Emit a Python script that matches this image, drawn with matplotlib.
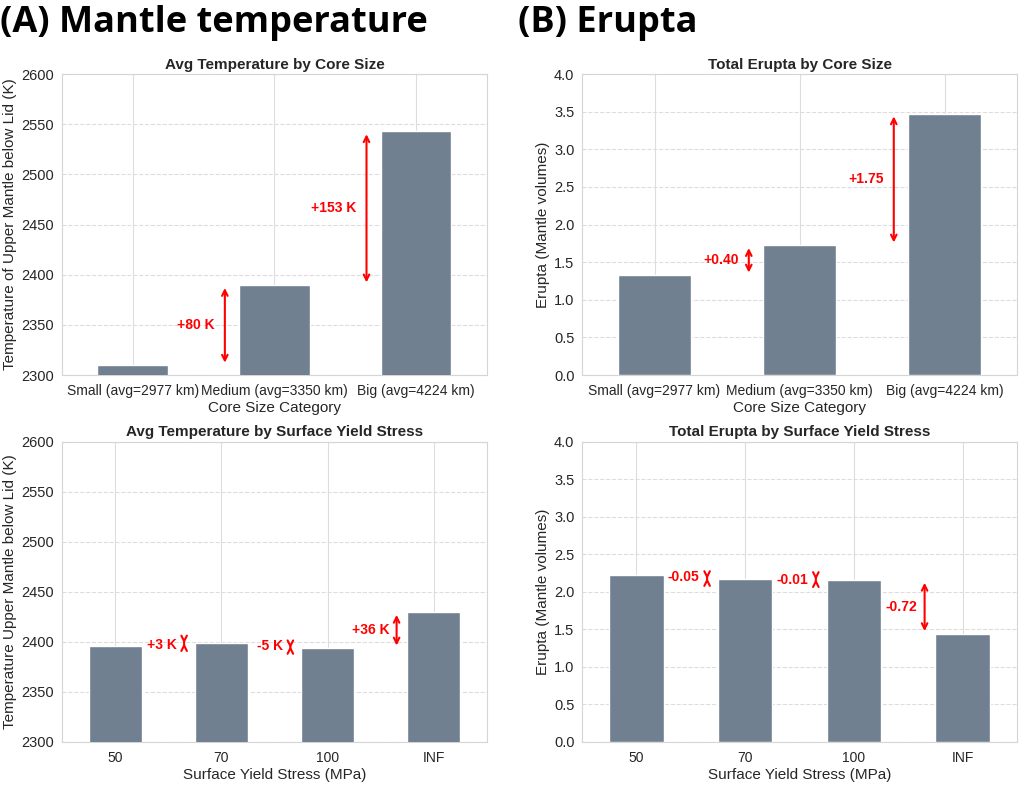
import numpy as np
import matplotlib.pyplot as plt
import seaborn as sns

sns.set_style("whitegrid")
plt.rcParams['font.family'] = ['Liberation Sans', 'DejaVu Sans']

core_labels = ['Small (avg=2977 km)', 'Medium (avg=3350 km)', 'Big (avg=4224 km)']
core_temp = [2309.6, 2389.6, 2542.8]
core_erupta = [1.325, 1.725, 3.475]

stress_labels = ['50', '70', '100', 'INF']
stress_temp = [2395.6, 2398.8, 2393.6, 2429.8]
stress_erupta = [2.222, 2.170, 2.158, 1.440]

BAR = '#708090'


def draw_panel(ax, labels, values, title, xlabel, ylabel, ylim, yticks, fmt):
    x = np.arange(len(labels))
    ax.bar(x, values, width=0.5, color=BAR, edgecolor='white', linewidth=1, zorder=3)
    ax.set_xlim(-0.5, len(labels) - 0.5)
    ax.set_ylim(*ylim)
    ax.set_yticks(yticks)
    ax.set_xticks(x)
    ax.set_xticklabels(labels, fontsize=10)
    ax.tick_params(axis='y', labelsize=10.5, pad=2)
    ax.tick_params(axis='x', pad=3)
    ax.set_title(title, fontsize=11, fontweight='bold', pad=4)
    ax.set_xlabel(xlabel, fontsize=11, labelpad=2)
    ax.set_ylabel(ylabel, fontsize=11, labelpad=3)
    ax.grid(axis='y', linestyle='--', color='#dddddd', linewidth=0.8)
    ax.grid(axis='x', linestyle='-', color='#dddddd', linewidth=0.8)
    for s in ax.spines.values():
        s.set_color('#d5d5d5')
    for i in range(len(values) - 1):
        d = values[i + 1] - values[i]
        xa = i + 0.65
        ax.annotate('', xy=(xa, values[i + 1]), xytext=(xa, values[i]),
                    arrowprops=dict(arrowstyle='<->', color='red', lw=1.5), zorder=4)
        ax.text(xa - 0.07, (values[i] + values[i + 1]) / 2, fmt(d),
                ha='right', va='center', color='red', fontsize=10, fontweight='bold', zorder=5)


fig = plt.figure(figsize=(10.24, 7.88), dpi=100)
ax1 = fig.add_axes([0.0605, 0.524, 0.415, 0.382])
ax2 = fig.add_axes([0.5684, 0.524, 0.4248, 0.382])
ax3 = fig.add_axes([0.0605, 0.0584, 0.415, 0.381])
ax4 = fig.add_axes([0.5684, 0.0584, 0.4248, 0.381])

tfmt = lambda d: f'{d:+.0f} K'
efmt = lambda d: f'{d:+.2f}'

draw_panel(ax1, core_labels, core_temp, 'Avg Temperature by Core Size', 'Core Size Category',
           'Temperature of Upper Mantle below Lid (K)', (2300, 2600), np.arange(2300, 2601, 50), tfmt)
draw_panel(ax2, core_labels, core_erupta, 'Total Erupta by Core Size', 'Core Size Category',
           'Erupta (Mantle volumes)', (0, 4.0), np.arange(0, 4.01, 0.5), efmt)
draw_panel(ax3, stress_labels, stress_temp, 'Avg Temperature by Surface Yield Stress', 'Surface Yield Stress (MPa)',
           'Temperature Upper Mantle below Lid (K)', (2300, 2600), np.arange(2300, 2601, 50), tfmt)
draw_panel(ax4, stress_labels, stress_erupta, 'Total Erupta by Surface Yield Stress', 'Surface Yield Stress (MPa)',
           'Erupta (Mantle volumes)', (0, 4.0), np.arange(0, 4.01, 0.5), efmt)

for ax in (ax2, ax4):
    ax.yaxis.set_major_formatter(plt.FormatStrFormatter('%.1f'))

fig.text(0.0, 0.971, '(A) Mantle temperature', fontsize=26, fontweight='bold', color='black',
         family=['Open Sans', 'DejaVu Sans'], ha='left', va='center')
fig.text(0.506, 0.971, '(B) Erupta', fontsize=26, fontweight='bold', color='black',
         family=['Open Sans', 'DejaVu Sans'], ha='left', va='center')

fig.savefig('out.png', dpi=100)
